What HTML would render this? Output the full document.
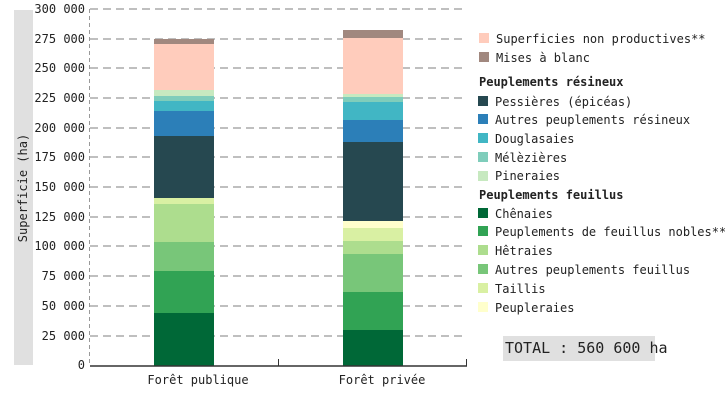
<!DOCTYPE html>
<html><head><meta charset="utf-8"><style>
body{margin:0;background:#fff}
text{font-family:"DejaVu Sans Mono","Liberation Mono",monospace;font-size:12px;fill:#222}
</style></head><body>
<svg width="725" height="400" xmlns="http://www.w3.org/2000/svg">
<rect x="14" y="10" width="19" height="355" fill="#e0e0e0"/>
<text transform="translate(27,188) rotate(-90)" text-anchor="middle">Superficie (ha)</text>
<line x1="89.5" y1="9" x2="89.5" y2="365" stroke="#999" stroke-dasharray="4,3"/>
<g stroke="#999" stroke-dasharray="8,5" stroke-width="1.2">
<line x1="90" x2="467" y1="9" y2="9"/><line x1="90" x2="467" y1="39" y2="39"/>
<line x1="90" x2="467" y1="68" y2="68"/><line x1="90" x2="467" y1="98" y2="98"/>
<line x1="90" x2="467" y1="128" y2="128"/><line x1="90" x2="467" y1="157" y2="157"/>
<line x1="90" x2="467" y1="187" y2="187"/><line x1="90" x2="467" y1="217" y2="217"/>
<line x1="90" x2="467" y1="246" y2="246"/><line x1="90" x2="467" y1="276" y2="276"/>
<line x1="90" x2="467" y1="306" y2="306"/><line x1="90" x2="467" y1="336" y2="336"/>
</g>
<g text-anchor="end">
<text x="85" y="13">300 000</text><text x="85" y="43">275 000</text><text x="85" y="72">250 000</text>
<text x="85" y="102">225 000</text><text x="85" y="132">200 000</text><text x="85" y="161">175 000</text>
<text x="85" y="191">150 000</text><text x="85" y="221">125 000</text><text x="85" y="250">100 000</text>
<text x="85" y="280">75 000</text><text x="85" y="310">50 000</text><text x="85" y="340">25 000</text>
<text x="85" y="369">0</text>
</g>
<!-- bar 1 -->
<rect x="154" y="39" width="60" height="5" fill="#a1887f"/>
<rect x="154" y="44" width="60" height="46" fill="#ffccbc"/>
<rect x="154" y="90" width="60" height="6" fill="#c7e9c0"/>
<rect x="154" y="96" width="60" height="5" fill="#7fcdbb"/>
<rect x="154" y="101" width="60" height="10" fill="#41b6c4"/>
<rect x="154" y="111" width="60" height="25" fill="#2c7fb8"/>
<rect x="154" y="136" width="60" height="62" fill="#264850"/>
<rect x="154" y="198" width="60" height="6" fill="#d9f0a3"/>
<rect x="154" y="204" width="60" height="38" fill="#addd8e"/>
<rect x="154" y="242" width="60" height="29" fill="#78c679"/>
<rect x="154" y="271" width="60" height="42" fill="#31a354"/>
<rect x="154" y="313" width="60" height="53" fill="#006837"/>
<!-- bar 2 -->
<rect x="343" y="30" width="60" height="8" fill="#a1887f"/>
<rect x="343" y="38" width="60" height="56" fill="#ffccbc"/>
<rect x="343" y="94" width="60" height="3" fill="#c7e9c0"/>
<rect x="343" y="97" width="60" height="5" fill="#7fcdbb"/>
<rect x="343" y="102" width="60" height="18" fill="#41b6c4"/>
<rect x="343" y="120" width="60" height="22" fill="#2c7fb8"/>
<rect x="343" y="142" width="60" height="79" fill="#264850"/>
<rect x="343" y="221" width="60" height="7" fill="#ffffcc"/>
<rect x="343" y="228" width="60" height="13" fill="#d9f0a3"/>
<rect x="343" y="241" width="60" height="13" fill="#addd8e"/>
<rect x="343" y="254" width="60" height="38" fill="#78c679"/>
<rect x="343" y="292" width="60" height="38" fill="#31a354"/>
<rect x="343" y="330" width="60" height="36" fill="#006837"/>
<line x1="90" y1="366" x2="467" y2="366" stroke="#333" stroke-width="1.5"/>
<line x1="278.5" y1="359" x2="278.5" y2="366" stroke="#333"/>
<line x1="466.5" y1="359" x2="466.5" y2="366" stroke="#333"/>
<text x="198" y="384" text-anchor="middle">Forêt publique</text>
<text x="382" y="384" text-anchor="middle">Forêt privée</text>
<!-- legend -->
<g>
<rect x="479" y="33" width="10" height="10" fill="#ffccbc"/><text x="496" y="43">Superficies non productives**</text>
<rect x="479" y="52" width="10" height="10" fill="#a1887f"/><text x="496" y="62">Mises à blanc</text>
<text x="479" y="86" font-weight="bold">Peuplements résineux</text>
<rect x="478" y="96" width="10" height="10" fill="#264850"/><text x="495" y="106">Pessières (épicéas)</text>
<rect x="478" y="114" width="10" height="10" fill="#2c7fb8"/><text x="495" y="124">Autres peuplements résineux</text>
<rect x="478" y="133" width="10" height="10" fill="#41b6c4"/><text x="495" y="143">Douglasaies</text>
<rect x="478" y="152" width="10" height="10" fill="#7fcdbb"/><text x="495" y="162">Mélèzières</text>
<rect x="478" y="171" width="10" height="10" fill="#c7e9c0"/><text x="495" y="180">Pineraies</text>
<text x="479" y="199" font-weight="bold">Peuplements feuillus</text>
<rect x="478" y="208" width="10" height="10" fill="#006837"/><text x="495" y="218">Chênaies</text>
<rect x="478" y="226" width="10" height="10" fill="#31a354"/><text x="495" y="236">Peuplements de feuillus nobles**</text>
<rect x="478" y="245" width="10" height="10" fill="#addd8e"/><text x="495" y="255">Hêtraies</text>
<rect x="478" y="264" width="10" height="10" fill="#78c679"/><text x="495" y="274">Autres peuplements feuillus</text>
<rect x="478" y="283" width="10" height="10" fill="#d9f0a3"/><text x="495" y="293">Taillis</text>
<rect x="478" y="302" width="10" height="10" fill="#ffffcc"/><text x="495" y="312">Peupleraies</text>
</g>
<rect x="503" y="336" width="152" height="25" fill="#e0e0e0"/>
<text x="505" y="353" style="font-size:15px">TOTAL : 560 600 ha</text>
</svg>
</body></html>
